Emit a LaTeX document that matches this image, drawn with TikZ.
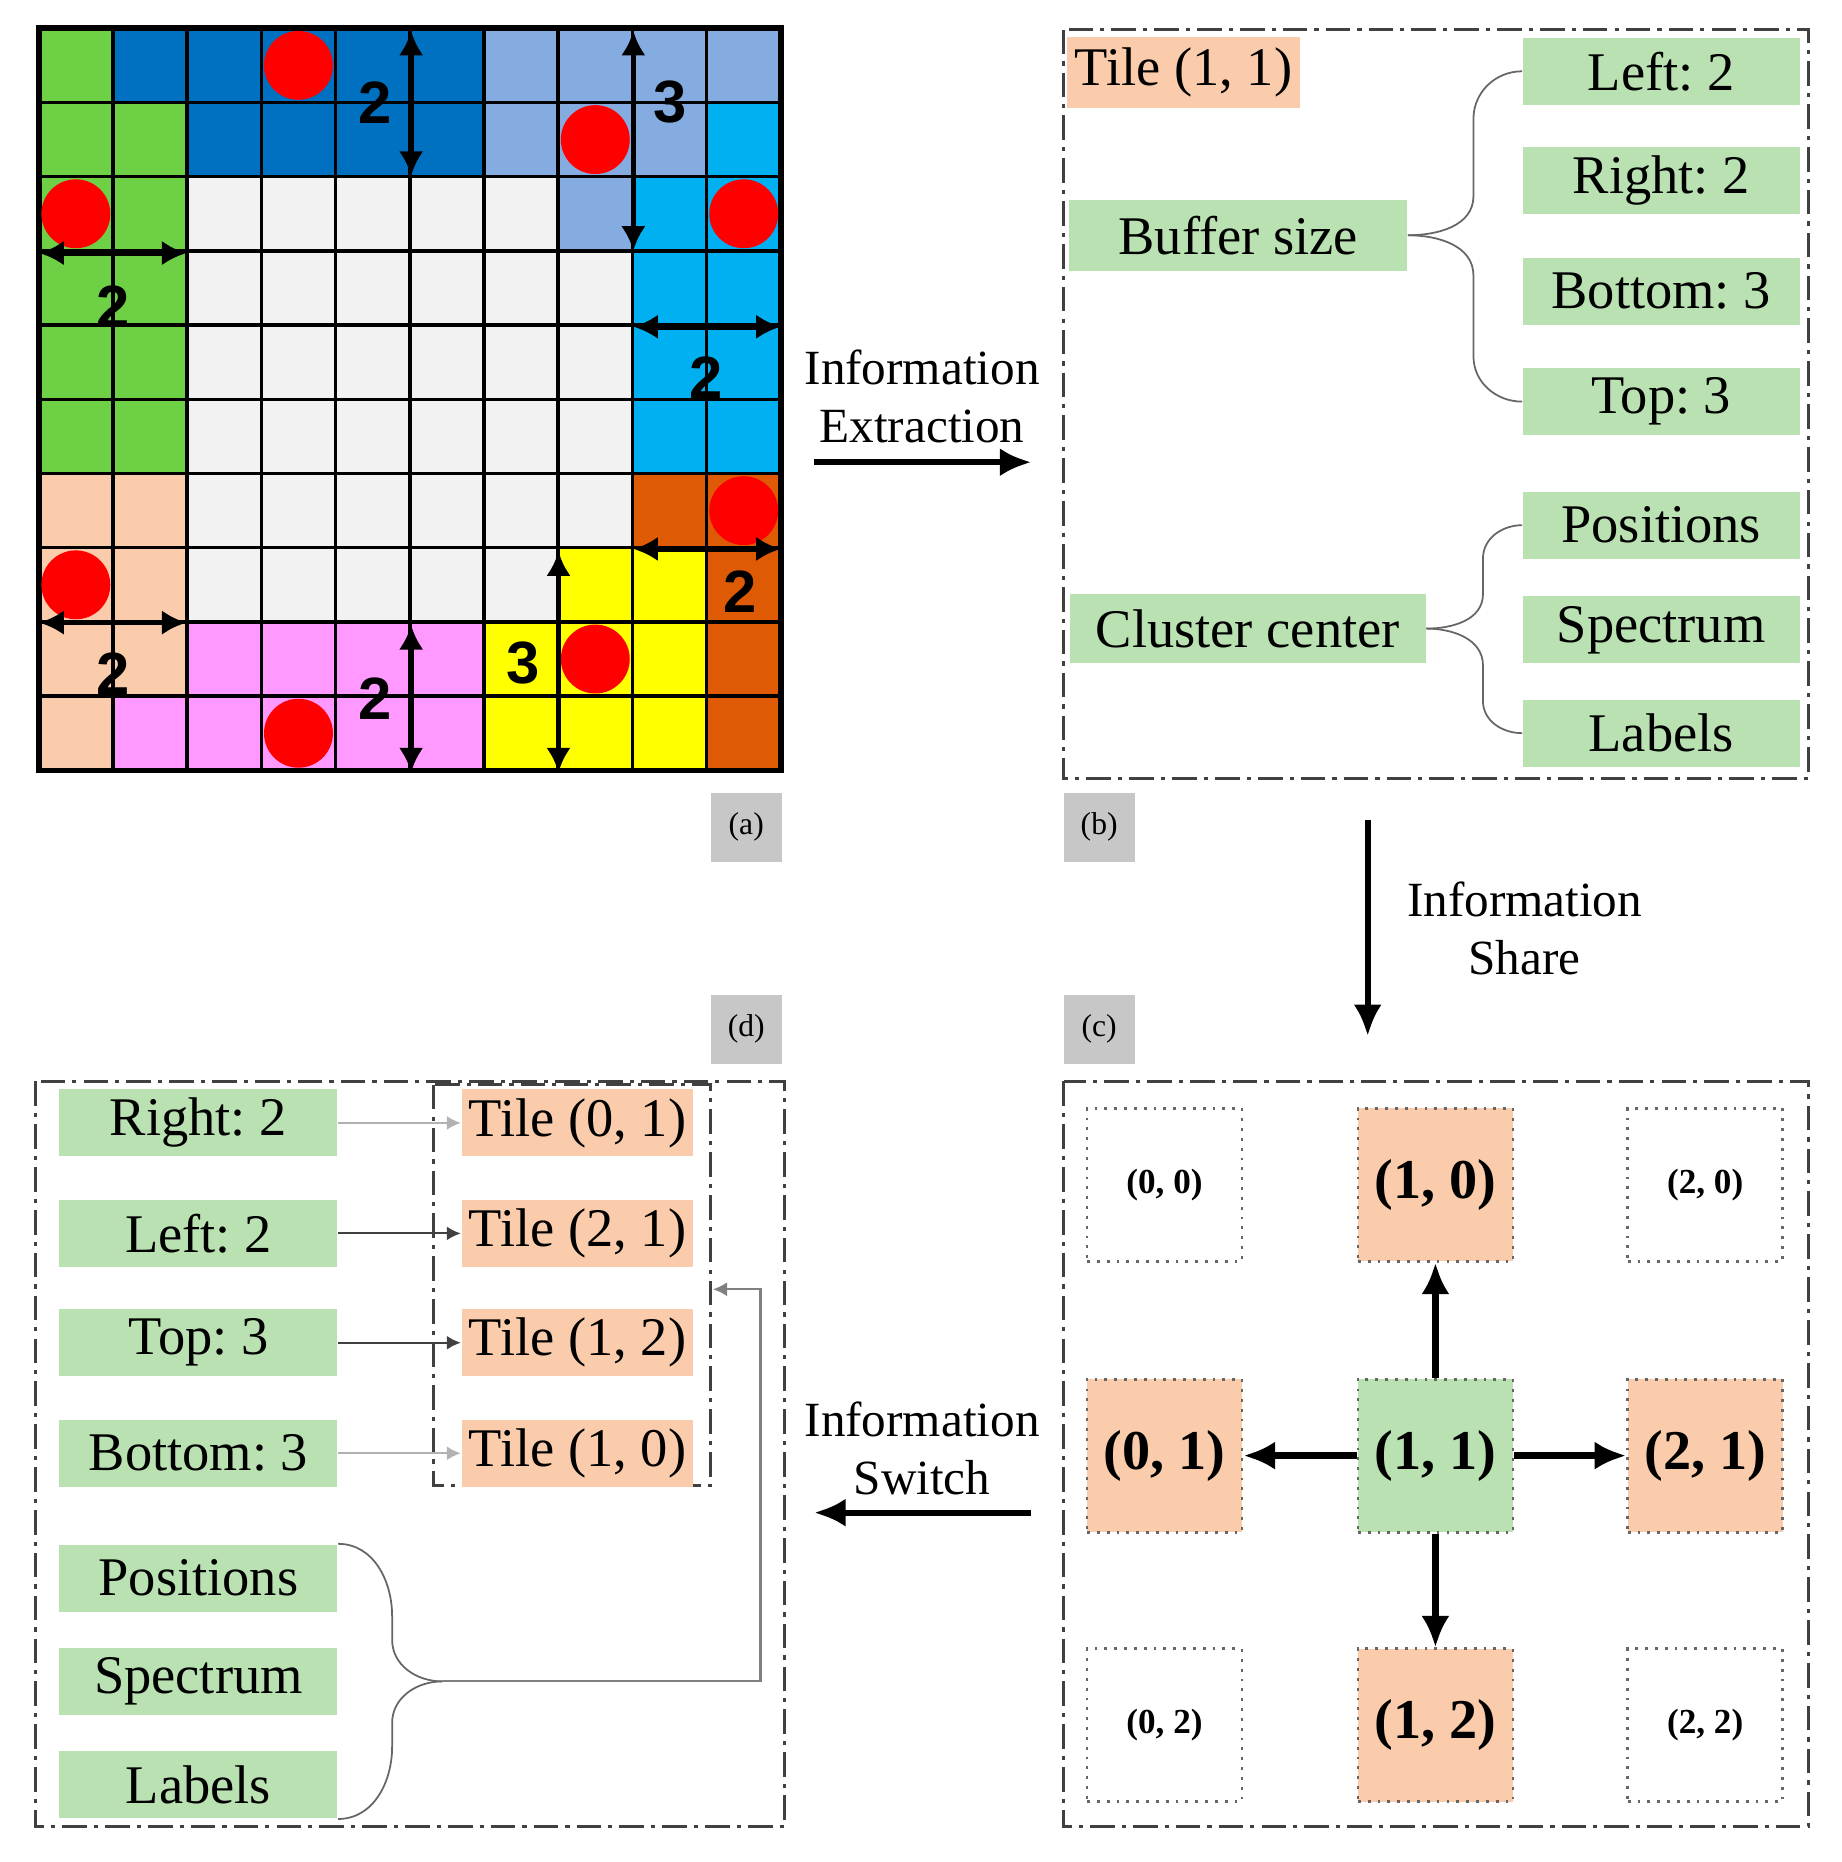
\documentclass[tikz,border=0pt]{standalone}
\usepackage{fontspec}
\setmainfont{Liberation Serif}
\setsansfont{Liberation Sans}
\frenchspacing
\usetikzlibrary{arrows.meta}
\definecolor{cG}{RGB}{110,208,68}
\definecolor{cB}{RGB}{0,112,192}
\definecolor{cL}{RGB}{132,172,224}
\definecolor{cC}{RGB}{0,176,240}
\definecolor{cW}{RGB}{242,242,242}
\definecolor{cP}{RGB}{250,204,172}
\definecolor{cO}{RGB}{222,90,4}
\definecolor{cK}{RGB}{255,153,255}
\definecolor{cY}{RGB}{255,255,0}
\definecolor{bgreen}{RGB}{185,225,178}
\definecolor{bpeach}{RGB}{250,204,172}
\tikzset{
 gbox/.style={fill=bgreen,inner sep=0pt,font=\fontsize{15.5}{18}\selectfont},
 pbox/.style={fill=bpeach,inner sep=0pt,font=\fontsize{15.5}{18}\selectfont},
 dd/.style={draw=black!75,line width=0.9pt,dash pattern=on 7pt off 2pt on 1.2pt off 2pt},
 tag/.style={fill=black!22,minimum width=0.71cm,minimum height=0.69cm,font=\fontsize{9}{10}\selectfont},
 num/.style={font=\sffamily\bfseries\fontsize{17}{19}\selectfont},
 darr/.style={line width=1.6pt,{Latex[length=7pt,width=7pt]}-{Latex[length=7pt,width=7pt]}},
 bigarr/.style={line width=1.8pt,-{Latex[length=9pt,width=8pt]}},
 brace/.style={draw=black!60,line width=0.5pt},
 small/.style={line width=0.6pt,-{Latex[length=4pt,width=4pt]}},
 sq/.style={draw=black!60,dotted,line width=0.8pt,minimum width=1.55cm,minimum height=1.53cm,inner sep=0pt},
 lbl/.style={font=\fontsize{14}{16.5}\selectfont,align=center},
}
\begin{document}
\begin{tikzpicture}[x=0.01188cm,y=-0.01188cm]
\useasboundingbox (0,0) rectangle (1550,1567);
% ---------- (a) grid
\def\xo{32.6}\def\yo{23.8}\def\cs{62.45}
\foreach \row [count=\r from 0] in {
 {G,B,B,B,B,B,L,L,L,L},
 {G,G,B,B,B,B,L,L,L,C},
 {G,G,W,W,W,W,W,L,C,C},
 {G,G,W,W,W,W,W,W,C,C},
 {G,G,W,W,W,W,W,W,C,C},
 {G,G,W,W,W,W,W,W,C,C},
 {P,P,W,W,W,W,W,W,O,O},
 {P,P,W,W,W,W,W,Y,Y,O},
 {P,P,K,K,K,K,Y,Y,Y,O},
 {P,K,K,K,K,K,Y,Y,Y,O}}{
  \foreach \c [count=\k from 0] in \row {
   \fill[c\c] ({\xo+\k*\cs},{\yo+\r*\cs}) rectangle ++(\cs,\cs);
  }
}
\foreach \i in {0,...,10}{
 \draw[line width=1pt] ({\xo+\i*\cs},\yo) -- ++(0,{10*\cs});
 \draw[line width=1pt] (\xo,{\yo+\i*\cs}) -- ++({10*\cs},0);
}
\draw[line width=1.6pt] (\xo,\yo) rectangle ++({10*\cs},{10*\cs});
\foreach \c/\r in {3/0,7/1,0/2,9/2,9/6,0/7,7/8,3/9}
 \fill[red] ({\xo+(\c+0.5)*\cs},{\yo+(\r+0.5)*\cs}) circle (29);
\draw[darr] (346,26) -- (346,148);  \node[num] at (316,86) {2};
\draw[darr] (533,26) -- (533,211);  \node[num] at (564,86) {3};
\draw[darr] (33,213) -- (157,213);  \node[num] at (95,258) {2};
\draw[darr] (533,275) -- (657,275); \node[num] at (594,318) {2};
\draw[darr] (533,462) -- (657,462); \node[num] at (623,498) {2};
\draw[darr] (33,524) -- (157,524);  \node[num] at (95,567) {2};
\draw[darr] (346,526) -- (346,650); \node[num] at (316,588) {2};
\draw[darr] (470,464) -- (470,650); \node[num] at (440,558) {3};
% tags
\node[tag] (ta) at (628,696) {(a)};
\node[tag] (tb) at (925,696) {(b)};
\node[tag] (td) at (628,866) {(d)};
\node[tag] (tc) at (925,866) {(c)};
% ---------- (b)
\draw[dd] (895,25) rectangle (1522,655);
\node[pbox,minimum width=2.34cm,minimum height=0.71cm] (t11) at (996,61) {Tile (1, 1)};
\node[gbox,minimum width=3.38cm,minimum height=0.71cm] (buf) at (1042,198) {Buffer size};
\node[gbox,minimum width=3.56cm,minimum height=0.69cm] (clu) at (1050,529) {Cluster center};
\foreach \n/\t/\y in {bl/{Left: 2}/60, br/{Right: 2}/152, bb/{Bottom: 3}/245, bt/{Top: 3}/338, bp/Positions/442, bs/Spectrum/530, bla/Labels/617}
 \node[gbox,minimum width=2.77cm,minimum height=0.67cm] (\n) at (1398,\y) {\t};
\draw[brace] (bl.west) to[out=180,in=90] (1240,100) -- (1240,165) to[out=-90,in=0] (buf.east);
\draw[brace] (buf.east) to[out=0,in=90] (1240,232) -- (1240,300) to[out=-90,in=180] (bt.west);
\draw[brace] (bp.west) to[out=180,in=90] (1248,470) -- (1248,500) to[out=-90,in=0] (clu.east);
\draw[brace] (clu.east) to[out=0,in=90] (1248,560) -- (1248,590) to[out=-90,in=180] (bla.west);
% transitions
\node[lbl] (ie) at (776,334) {Information\\Extraction};
\coordinate (ie1) at (685,389); \coordinate (ie2) at (868,389);
\draw[bigarr] (ie1) -- (ie2);
\node[lbl] (is) at (1283,781) {Information\\Share};
\coordinate (is1) at (1151,690); \coordinate (is2) at (1151,872);
\draw[bigarr] (is1) -- (is2);
\node[lbl] (iw) at (776,1219) {Information\\Switch};
\coordinate (iw1) at (868,1273); \coordinate (iw2) at (685,1273);
\draw[bigarr] (iw1) -- (iw2);
% ---------- (c)
\draw[dd] (895,910) rectangle (1522,1537);
\foreach \n/\x/\y/\f in {
 c00/980/997/white, c10/1208/997/bpeach, c20/1435/997/white,
 c01/980/1225/bpeach, c11/1208/1225/bgreen, c21/1435/1225/bpeach,
 c02/980/1452/white, c12/1208/1452/bpeach, c22/1435/1452/white}{
 \node[sq,fill=\f] (\n) at (\x,\y) {};
}
\node[font=\fontsize{10}{12}\selectfont\bfseries] at (c00) {(0, 0)};
\node[font=\fontsize{10}{12}\selectfont\bfseries] at (c20) {(2, 0)};
\node[font=\fontsize{10}{12}\selectfont\bfseries] at (c02) {(0, 2)};
\node[font=\fontsize{10}{12}\selectfont\bfseries] at (c22) {(2, 2)};
\node[font=\fontsize{16}{18}\selectfont\bfseries] at (c10) {(1, 0)};
\node[font=\fontsize{16}{18}\selectfont\bfseries] at (c01) {(0, 1)};
\node[font=\fontsize{16}{18}\selectfont\bfseries] at (c11) {(1, 1)};
\node[font=\fontsize{16}{18}\selectfont\bfseries] at (c21) {(2, 1)};
\node[font=\fontsize{16}{18}\selectfont\bfseries] at (c12) {(1, 2)};
\draw[bigarr] (c11.north) -- (c10.south);
\draw[bigarr] (c11.south) -- (c12.north);
\draw[bigarr] (c11.west) -- (c01.east);
\draw[bigarr] (c11.east) -- (c21.west);
% ---------- (d)
\draw[dd] (30,910) rectangle (660,1537);
\draw[dd,line width=0.8pt] (365,913) rectangle (598,1250);
\foreach \n/\t/\y in {dr/{Right: 2}/945, dl/{Left: 2}/1038, dt/{Top: 3}/1130, db/{Bottom: 3}/1223, dp/Positions/1328, ds/Spectrum/1415, dla/Labels/1502}
 \node[gbox,minimum width=2.78cm,minimum height=0.67cm] (\n) at (167,\y) {\t};
\foreach \n/\t/\y in {p01/{Tile (0, 1)}/945, p21/{Tile (2, 1)}/1038, p12/{Tile (1, 2)}/1130, p10/{Tile (1, 0)}/1223}
 \node[pbox,minimum width=2.32cm,minimum height=0.67cm] (\n) at (486,\y) {\t};
\draw[small,draw=black!30] (dr.east) -- (p01.west);
\draw[small,draw=black!75] (dl.east) -- (p21.west);
\draw[small,draw=black!75] (dt.east) -- (p12.west);
\draw[small,draw=black!30] (db.east) -- (p10.west);
\draw[brace] (dp.north east) to[out=0,in=90] (330,1360) -- (330,1380) to[out=-90,in=180] (372,1415);
\draw[brace] (dla.south east) to[out=0,in=-90] (330,1470) -- (330,1450) to[out=90,in=180] (372,1415);
\coordinate (sw1) at (372,1415); \coordinate (sw2) at (640,1415);
\coordinate (sw3) at (640,1085); \coordinate (sw4) at (600,1085);
\draw[small,draw=black!50] (sw1) -- (sw2) -- (sw3) -- (sw4);
\end{tikzpicture}
\end{document}
